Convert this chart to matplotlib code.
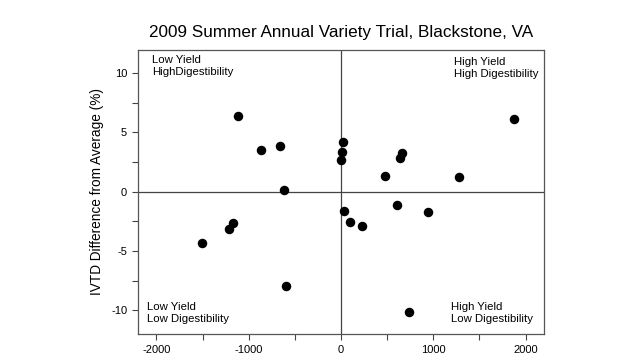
import matplotlib
matplotlib.use("Agg")
import matplotlib.pyplot as plt
from matplotlib.ticker import MultipleLocator

plt.rcParams["font.family"] = ["Liberation Sans", "DejaVu Sans"]
plt.rcParams["axes.unicode_minus"] = False

# yield difference (kg/ha) vs IVTD difference (%) from trial average
yield_diff = [-1119, -862, -660, -614, 25, 11, 3,
              1876, 660, 642, 476, 1284,
              -1501, -1216, -1166, -599,
              32, 93, 223, 609, 948, 732]
ivtd_diff = [6.40, 3.51, 3.88, 0.17, 4.16, 3.34, 2.72,
             6.12, 3.31, 2.84, 1.29, 1.26,
             -4.33, -3.12, -2.61, -7.92,
             -1.63, -2.56, -2.92, -1.10, -1.68, -10.11]

quadrants = ["Low Yield\nHighDigestibility", "High Yield\nHigh Digestibility",
             "Low Yield\nLow Digestibility", "High Yield\nLow Digestibility"]

fig = plt.figure(figsize=(6.4, 3.6), dpi=100)
ax = fig.add_axes([0.2156, 0.0722, 0.6344, 0.7903])

ax.axhline(0, color="#444444", lw=0.9, zorder=1)
ax.axvline(0, color="#444444", lw=0.9, zorder=1)
ax.scatter(yield_diff, ivtd_diff, s=34, color="black", zorder=3)

ax.set_xlim(-2200, 2200)
ax.set_ylim(-12, 12)
ax.xaxis.set_major_locator(MultipleLocator(1000))
ax.xaxis.set_minor_locator(MultipleLocator(500))
ax.yaxis.set_major_locator(MultipleLocator(5))
ax.yaxis.set_minor_locator(MultipleLocator(2.5))
ax.tick_params(which="both", direction="out", colors="#444444", labelcolor="black",
               labelsize=8, width=0.8, length=4.3)
for sp in ax.spines.values():
    sp.set_color("#555555")
    sp.set_linewidth(0.9)

ax.set_ylabel("IVTD Difference from Average (%)", fontsize=9.8, labelpad=5)
ax.set_title("2009 Summer Annual Variety Trial, Blackstone, VA", fontsize=12.3, pad=9)

kw = dict(transform=ax.transAxes, fontsize=8.2, linespacing=1.2)
ax.text(0.034, 0.98, quadrants[0], ha="left", va="top", **kw)
ax.text(0.778, 0.972, quadrants[1], ha="left", va="top", **kw)
ax.text(0.022, 0.035, quadrants[2], ha="left", va="bottom", **kw)
ax.text(0.770, 0.035, quadrants[3], ha="left", va="bottom", **kw)

fig.savefig("out.png", dpi=100)
